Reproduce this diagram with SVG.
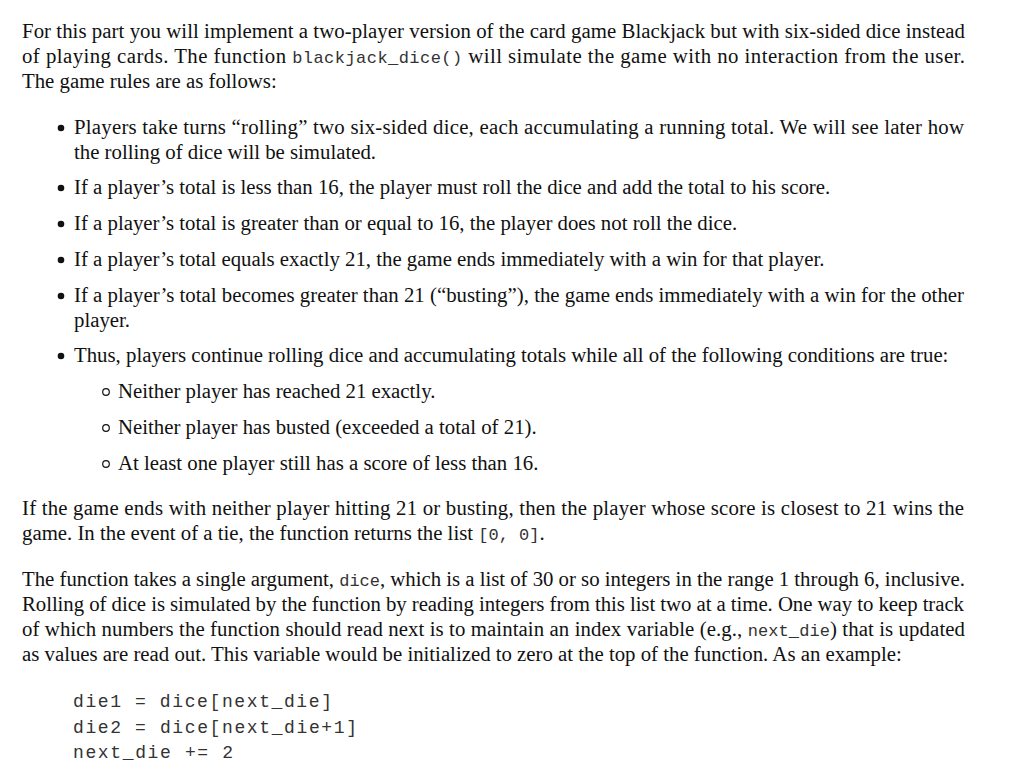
<svg xmlns="http://www.w3.org/2000/svg" width="1024" height="767" viewBox="0 0 1024 767">
<style>
text{font-family:"Liberation Serif","Times New Roman",serif;font-size:20.8px;fill:#111}
.m{font-family:"Liberation Mono","Courier New",monospace;font-size:17px;fill:#333}
.c{font-family:"Liberation Mono","Courier New",monospace;font-size:18px;fill:#333}
</style>
<rect width="1024" height="767" fill="#fff"/>
<g id="intro">
<text x="22" y="38" textLength="943" lengthAdjust="spacing">For this part you will implement a two-player version of the card game Blackjack but with six-sided dice instead</text>
<text x="22" y="63" textLength="943" lengthAdjust="spacing">of playing cards. The function <tspan class="m">blackjack_dice()</tspan> will simulate the game with no interaction from the user.</text>
<text x="22" y="88">The game rules are as follows:</text>
</g>
<g id="bullets">
<circle cx="61" cy="128" r="3.3" fill="#111"/>
<text x="74" y="134" textLength="890" lengthAdjust="spacing">Players take turns “rolling” two six-sided dice, each accumulating a running total. We will see later how</text>
<text x="74" y="159">the rolling of dice will be simulated.</text>
<circle cx="61" cy="188" r="3.3" fill="#111"/>
<text x="74" y="194">If a player’s total is less than 16, the player must roll the dice and add the total to his score.</text>
<circle cx="61" cy="224" r="3.3" fill="#111"/>
<text x="74" y="230">If a player’s total is greater than or equal to 16, the player does not roll the dice.</text>
<circle cx="61" cy="260" r="3.3" fill="#111"/>
<text x="74" y="266">If a player’s total equals exactly 21, the game ends immediately with a win for that player.</text>
<circle cx="61" cy="296" r="3.3" fill="#111"/>
<text x="74" y="302" textLength="890" lengthAdjust="spacing">If a player’s total becomes greater than 21 (“busting”), the game ends immediately with a win for the other</text>
<text x="74" y="327">player.</text>
<circle cx="61" cy="356" r="3.3" fill="#111"/>
<text x="74" y="362">Thus, players continue rolling dice and accumulating totals while all of the following conditions are true:</text>
<circle cx="106" cy="392" r="3.3" fill="none" stroke="#111" stroke-width="1.2"/>
<text x="118" y="398">Neither player has reached 21 exactly.</text>
<circle cx="106" cy="428" r="3.3" fill="none" stroke="#111" stroke-width="1.2"/>
<text x="118" y="434">Neither player has busted (exceeded a total of 21).</text>
<circle cx="106" cy="464" r="3.3" fill="none" stroke="#111" stroke-width="1.2"/>
<text x="118" y="470">At least one player still has a score of less than 16.</text>
</g>
<g id="para1">
<text x="22" y="515" textLength="942" lengthAdjust="spacing">If the game ends with neither player hitting 21 or busting, then the player whose score is closest to 21 wins the</text>
<text x="22" y="540">game. In the event of a tie, the function returns the list <tspan class="m">[0, 0]</tspan>.</text>
</g>
<g id="para2">
<text x="22" y="586" textLength="943" lengthAdjust="spacing">The function takes a single argument, <tspan class="m">dice</tspan>, which is a list of 30 or so integers in the range 1 through 6, inclusive.</text>
<text x="22" y="611" textLength="942" lengthAdjust="spacing">Rolling of dice is simulated by the function by reading integers from this list two at a time. One way to keep track</text>
<text x="22" y="636" textLength="943" lengthAdjust="spacing">of which numbers the function should read next is to maintain an index variable (e.g., <tspan class="m">next_die</tspan>) that is updated</text>
<text x="22" y="661">as values are read out. This variable would be initialized to zero at the top of the function. As an example:</text>
</g>
<g id="code">
<text class="c" x="73" y="707" textLength="259" lengthAdjust="spacing">die1 = dice[next_die]</text>
<text class="c" x="73" y="733" textLength="284" lengthAdjust="spacing">die2 = dice[next_die+1]</text>
<text class="c" x="73" y="758" textLength="160" lengthAdjust="spacing">next_die += 2</text>
</g>
</svg>
